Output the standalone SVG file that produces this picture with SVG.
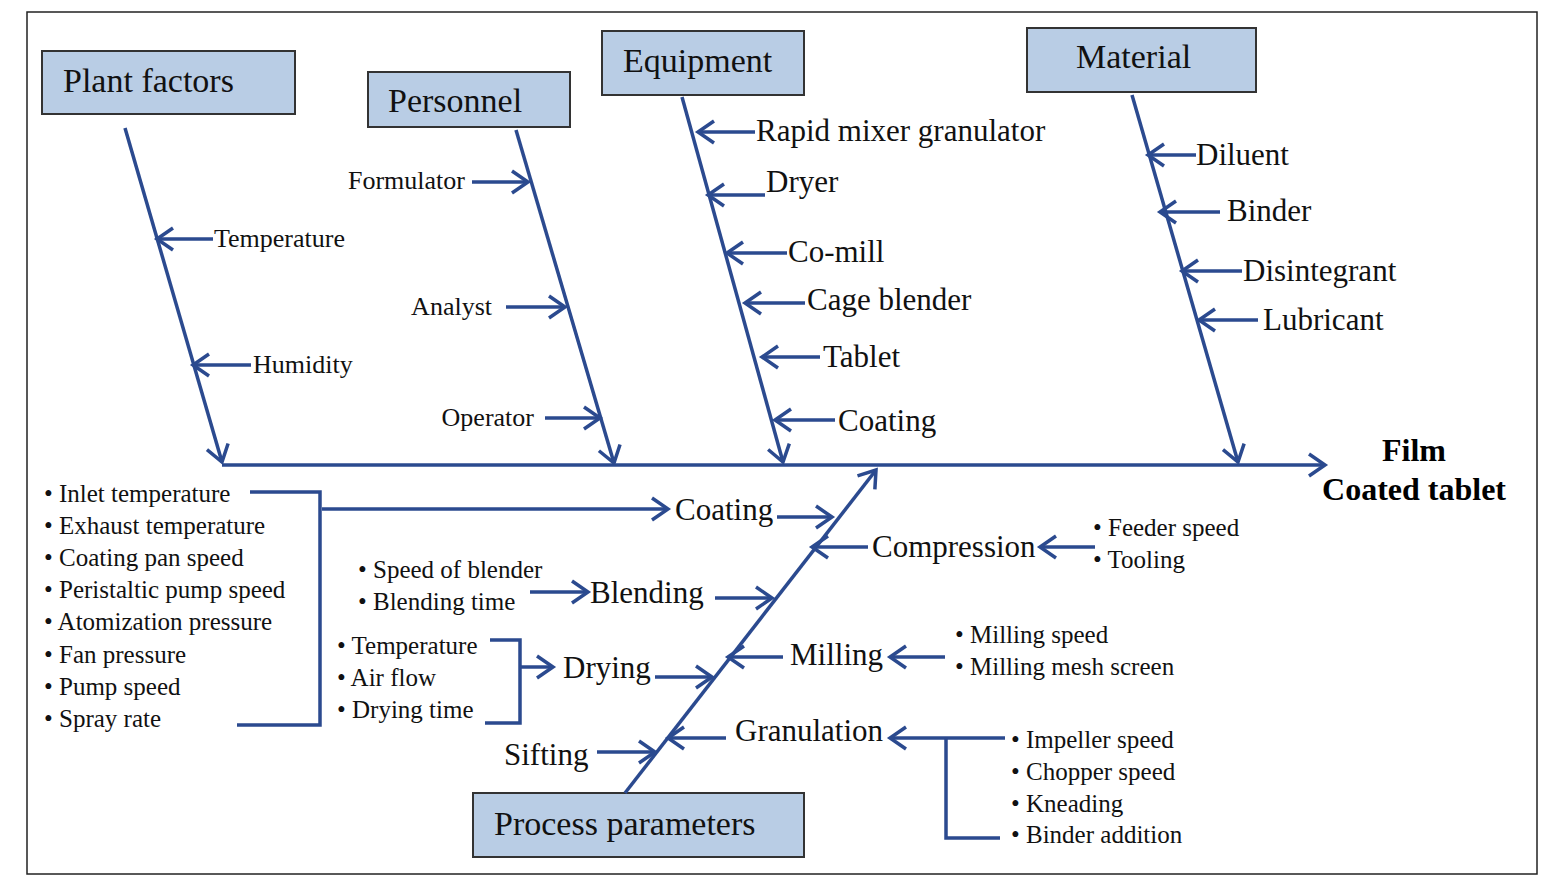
<svg xmlns="http://www.w3.org/2000/svg" width="1557" height="875" viewBox="0 0 1557 875">
<style>
.b{fill:#b9cde5;stroke:#333;stroke-width:2}
.h{font-family:"Liberation Serif",serif;font-size:34px;fill:#111}
.t{font-family:"Liberation Serif",serif;font-size:31px;fill:#111}
.s{font-family:"Liberation Serif",serif;font-size:25px;fill:#111}
.m{font-family:"Liberation Serif",serif;font-size:26px;fill:#111}
.l{stroke:#2b4a8f;stroke-width:3.5;fill:none}
</style>
<defs>
<marker id="a" markerUnits="userSpaceOnUse" markerWidth="30" markerHeight="30" refX="22" refY="12" orient="auto" viewBox="0 0 30 24">
<polyline points="6,1 22,12 6,23" fill="none" stroke="#2b4a8f" stroke-width="3.5"/>
</marker>
</defs>
<rect x="27" y="12" width="1510" height="862" fill="#fff" stroke="#222" stroke-width="1.5"/>
<g id="plant"><rect class="b" x="42" y="51" width="253" height="63"/><text class="h" x="63" y="92">Plant factors</text></g>
<g id="personnel"><rect class="b" x="368" y="72" width="202" height="55"/><text class="h" x="388" y="112">Personnel</text></g>
<g id="equipment"><rect class="b" x="602" y="31" width="202" height="64"/><text class="h" x="623" y="72">Equipment</text></g>
<g id="material"><rect class="b" x="1027" y="28" width="229" height="64"/><text class="h" x="1076" y="68">Material</text></g>
<g id="process"><rect class="b" x="473" y="793" width="331" height="64"/><text class="h" x="494" y="835">Process parameters</text></g>
<g id="effect"><text x="1414" y="461" text-anchor="middle" font-family="Liberation Serif,serif" font-weight="bold" font-size="32">Film</text><text x="1414" y="500" text-anchor="middle" font-family="Liberation Serif,serif" font-weight="bold" font-size="32">Coated tablet</text></g>
<g id="labels">
<text class="m" x="214" y="247">Temperature</text>
<text class="m" x="253" y="373">Humidity</text>
<text class="m" x="465" y="189" text-anchor="end">Formulator</text>
<text class="m" x="492" y="315" text-anchor="end">Analyst</text>
<text class="m" x="534" y="426" text-anchor="end">Operator</text>
<text class="t" x="756" y="141">Rapid mixer granulator</text>
<text class="t" x="766" y="192">Dryer</text>
<text class="t" x="788" y="262">Co-mill</text>
<text class="t" x="807" y="310">Cage blender</text>
<text class="t" x="823" y="367">Tablet</text>
<text class="t" x="838" y="431">Coating</text>
<text class="t" x="1196" y="165">Diluent</text>
<text class="t" x="1227" y="221">Binder</text>
<text class="t" x="1243" y="281">Disintegrant</text>
<text class="t" x="1263" y="330">Lubricant</text>
<text class="t" x="675" y="520">Coating</text>
<text class="t" x="872" y="557">Compression</text>
<text class="t" x="590" y="603">Blending</text>
<text class="t" x="563" y="678">Drying</text>
<text class="t" x="790" y="665">Milling</text>
<text class="t" x="735" y="741">Granulation</text>
<text class="t" x="504" y="765">Sifting</text>
<text class="s" x="44" y="502">•  Inlet temperature</text>
<text class="s" x="44" y="534">•  Exhaust temperature</text>
<text class="s" x="44" y="566">•  Coating pan speed</text>
<text class="s" x="44" y="598">•  Peristaltic pump speed</text>
<text class="s" x="44" y="630">•  Atomization pressure</text>
<text class="s" x="44" y="663">•  Fan pressure</text>
<text class="s" x="44" y="695">•  Pump speed</text>
<text class="s" x="44" y="727">•  Spray rate</text>
<text class="s" x="358" y="578">•  Speed of blender</text>
<text class="s" x="358" y="610">•  Blending time</text>
<text class="s" x="337" y="654">•  Temperature</text>
<text class="s" x="337" y="686">•  Air flow</text>
<text class="s" x="337" y="718">•  Drying time</text>
<text class="s" x="1093" y="536">•  Feeder speed</text>
<text class="s" x="1093" y="568">•  Tooling</text>
<text class="s" x="955" y="643">•  Milling speed</text>
<text class="s" x="955" y="675">•  Milling mesh screen</text>
<text class="s" x="1011" y="748">•  Impeller speed</text>
<text class="s" x="1011" y="780">•  Chopper speed</text>
<text class="s" x="1011" y="812">•  Kneading</text>
<text class="s" x="1011" y="843">•  Binder addition</text>
</g>
<g id="connectors" class="l">
<line x1="222" y1="465" x2="1325" y2="465" marker-end="url(#a)"/>
<line x1="125" y1="128" x2="222" y2="462" marker-end="url(#a)"/>
<line x1="516" y1="130" x2="614" y2="463" marker-end="url(#a)"/>
<line x1="682" y1="97" x2="783" y2="462" marker-end="url(#a)"/>
<line x1="1132" y1="95" x2="1238" y2="462" marker-end="url(#a)"/>
<line x1="625" y1="793" x2="876" y2="470" marker-end="url(#a)"/>
<line x1="213" y1="239" x2="157" y2="239" marker-end="url(#a)"/>
<line x1="251" y1="365" x2="193" y2="365" marker-end="url(#a)"/>
<line x1="472" y1="182" x2="528" y2="182" marker-end="url(#a)"/>
<line x1="506" y1="307" x2="565" y2="307" marker-end="url(#a)"/>
<line x1="545" y1="418" x2="600" y2="418" marker-end="url(#a)"/>
<line x1="755" y1="132" x2="698" y2="132" marker-end="url(#a)"/>
<line x1="765" y1="195" x2="708" y2="195" marker-end="url(#a)"/>
<line x1="787" y1="253" x2="727" y2="253" marker-end="url(#a)"/>
<line x1="805" y1="303" x2="745" y2="303" marker-end="url(#a)"/>
<line x1="820" y1="357" x2="762" y2="357" marker-end="url(#a)"/>
<line x1="835" y1="420" x2="775" y2="420" marker-end="url(#a)"/>
<line x1="1196" y1="155" x2="1148" y2="155" marker-end="url(#a)"/>
<line x1="1220" y1="212" x2="1160" y2="212" marker-end="url(#a)"/>
<line x1="1242" y1="271" x2="1182" y2="271" marker-end="url(#a)"/>
<line x1="1258" y1="320" x2="1199" y2="320" marker-end="url(#a)"/>
<polyline points="250,492 320,492 320,725 237,725"/>
<line x1="322" y1="509" x2="668" y2="509" marker-end="url(#a)"/>
<line x1="777" y1="517" x2="832" y2="517" marker-end="url(#a)"/>
<line x1="868" y1="547" x2="812" y2="547" marker-end="url(#a)"/>
<line x1="1095" y1="547" x2="1040" y2="547" marker-end="url(#a)"/>
<line x1="530" y1="592" x2="588" y2="592" marker-end="url(#a)"/>
<line x1="715" y1="598" x2="772" y2="598" marker-end="url(#a)"/>
<polyline points="490,640 520,640 520,723 485,723"/>
<line x1="520" y1="667" x2="553" y2="667" marker-end="url(#a)"/>
<line x1="655" y1="677" x2="712" y2="677" marker-end="url(#a)"/>
<line x1="783" y1="657" x2="728" y2="657" marker-end="url(#a)"/>
<line x1="945" y1="657" x2="890" y2="657" marker-end="url(#a)"/>
<line x1="726" y1="738" x2="668" y2="738" marker-end="url(#a)"/>
<line x1="1005" y1="738" x2="890" y2="738" marker-end="url(#a)"/>
<polyline points="946,738 946,838 1000,838"/>
<line x1="597" y1="752" x2="655" y2="752" marker-end="url(#a)"/>
</g>
</svg>
